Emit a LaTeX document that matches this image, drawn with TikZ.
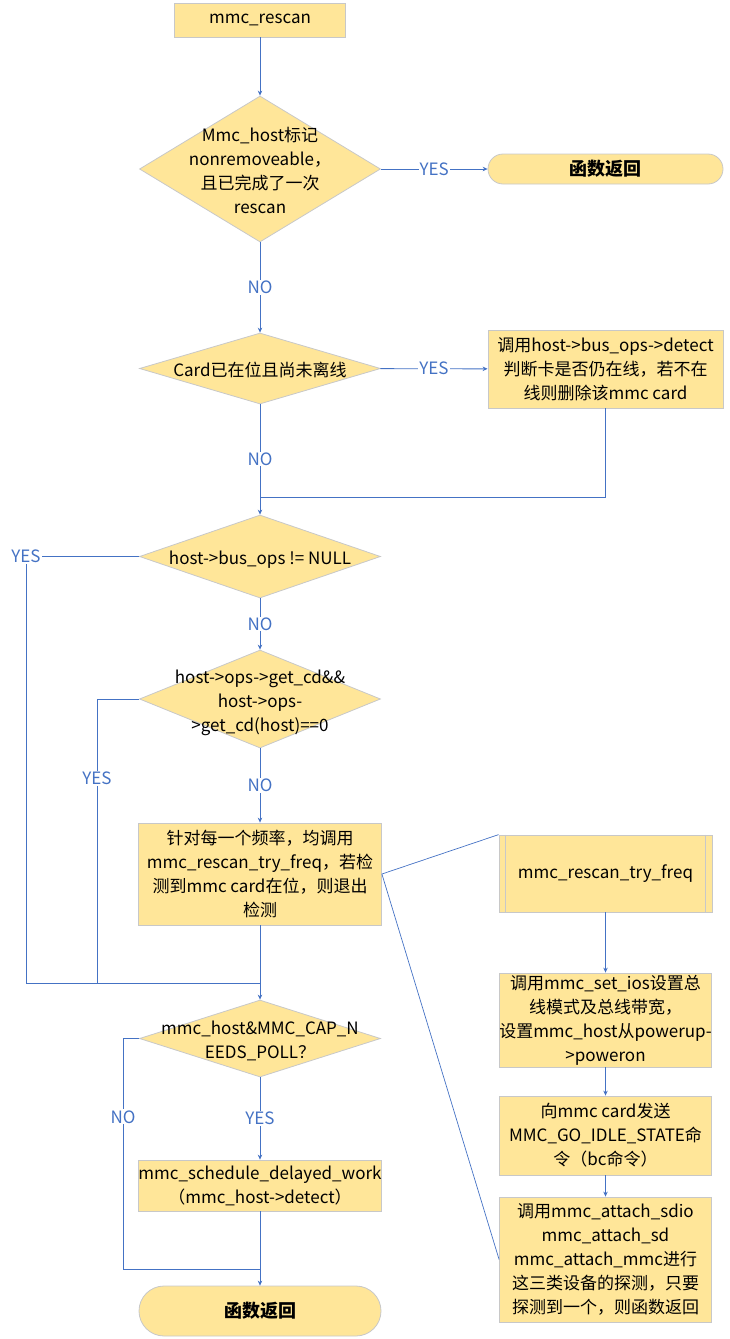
\documentclass[tikz,border=0pt]{standalone}
\usepackage{fontspec}
\setmainfont{Noto Sans CJK SC}
\usepackage{xcolor}
\usetikzlibrary{arrows.meta}
\usetikzlibrary{calc}
\usetikzlibrary{shapes.geometric}
\definecolor{flowblue}{HTML}{4472C4}
\definecolor{flowfill}{HTML}{FFE699}
\definecolor{flowedge}{HTML}{C8C8C8}
\newcommand{\figrescanflat}[1]{\makebox[0pt]{\smash{\raisebox{-0.45em}{\begin{tabular}{@{}c@{}}#1\end{tabular}}}}}
\tikzset{
  flowbox/.style={draw=flowedge, fill=flowfill, line width=0.8pt, align=center, inner sep=0pt, font={\fontsize{17pt}{24pt}\selectfont}},
  flowproc/.style={flowbox, rectangle},
  flowterm/.style={flowbox, rectangle, font={\fontsize{18pt}{24pt}\selectfont\bfseries}},
  flowdeci/.style={flowbox, diamond, minimum width=241pt},
  flowline/.style={draw=flowblue, line width=0.9pt},
  flowarrow/.style={flowline, -{Stealth[length=5pt,width=4.5pt]}},
  flowlabel/.style={fill=white, text=flowblue, inner sep=1pt, font={\fontsize{17pt}{20pt}\selectfont}},
}

\begin{document}
\begin{tikzpicture}[x=1pt, y=-1pt]
        \newcommand{\figrescanmainx}{260}
        \newcommand{\figrescansidex}{605.5}
        \newcommand{\figrescanjoinay}{497}
        \newcommand{\figrescanjoinby}{983}
        \newcommand{\figrescanjoincy}{1269}
        \useasboundingbox (0,0) rectangle (729,1339);
        \node[flowproc, minimum width=171pt, minimum height=34pt] (start) at (\figrescanmainx,20) {mmc\_rescan};
        \node[flowdeci, minimum height=146pt] (nonrem) at (\figrescanmainx,169) {\figrescanflat{Mmc\_host标记\\nonremoveable，\\且已完成了一次\\rescan}};
        \node[flowterm, minimum width=235pt, minimum height=30pt, rounded corners=15pt] (retone) at (\figrescansidex,169) {函数返回};
        \node[flowdeci, minimum height=71pt] (cardon) at (\figrescanmainx,368.5) {\figrescanflat{Card已在位且尚未离线}};
        \node[flowproc, minimum width=235pt, minimum height=78pt] (detect) at (\figrescansidex,369) {调用host->bus\_ops->detect\\判断卡是否仍在线，若不在\\线则删除该mmc card};
        \node[flowdeci, minimum height=83pt] (busops) at (\figrescanmainx,556.5) {\figrescanflat{host->bus\_ops != NULL}};
        \node[flowdeci, minimum height=98pt] (getcd) at (\figrescanmainx,699) {\figrescanflat{host->ops->get\_cd\&\&\\host->ops-\\>get\_cd(host)==0}};
        \node[flowproc, minimum width=243pt, minimum height=102pt] (tryall) at (\figrescanmainx,874) {针对每一个频率，均调用\\mmc\_rescan\_try\_freq，若检\\测到mmc card在位，则退出\\检测};
        \node[flowdeci, minimum height=77pt] (needpoll) at (\figrescanmainx,1038.5) {\figrescanflat{mmc\_host\&MMC\_CAP\_N\\EEDS\_POLL？}};
        \node[flowproc, minimum width=243pt, minimum height=51pt] (sched) at (\figrescanmainx,1185.5) {mmc\_schedule\_delayed\_work\\（mmc\_host->detect）};
        \node[flowterm, minimum width=242pt, minimum height=50pt, rounded corners=25pt] (rettwo) at (\figrescanmainx,1311) {函数返回};
        \node[flowproc, minimum width=213pt, minimum height=77pt] (tryf) at (\figrescansidex,873.5) {mmc\_rescan\_try\_freq};
        \node[flowproc, minimum width=212pt, minimum height=94pt] (setios) at (\figrescansidex,1020) {调用mmc\_set\_ios设置总\\线模式及总线带宽，\\设置mmc\_host从powerup-\\>poweron};
        \node[flowproc, minimum width=212pt, minimum height=79pt] (idle) at (\figrescansidex,1135.5) {向mmc card发送\\MMC\_GO\_IDLE\_STATE命\\令（bc命令）};
        \node[flowproc, minimum width=212pt, minimum height=125pt] (attach) at (\figrescansidex,1259.5) {调用mmc\_attach\_sdio\\mmc\_attach\_sd\\mmc\_attach\_mmc进行\\这三类设备的探测，只要\\探测到一个，则函数返回};
        \draw[draw=flowedge, line width=0.8pt] ([xshift=7pt]tryf.north west) -- ([xshift=7pt]tryf.south west);
        \draw[draw=flowedge, line width=0.8pt] ([xshift=-7pt]tryf.north east) -- ([xshift=-7pt]tryf.south east);
        \coordinate (joina) at (\figrescanmainx,\figrescanjoinay);
        \coordinate (joinb) at (\figrescanmainx,\figrescanjoinby);
        \coordinate (joinc) at (\figrescanmainx,\figrescanjoincy);
        \coordinate (yesbus) at (26,556.5);
        \coordinate (yescd) at (97,\figrescanjoinby);
        \coordinate (nopoll) at (123,\figrescanjoincy);
        \draw[flowarrow] (start) -- (nonrem);
        \draw[flowarrow] (nonrem) -- node[flowlabel] (yesnonrem) {YES} (retone);
        \draw[flowarrow] (nonrem) -- node[flowlabel] (nononrem) {NO} (cardon);
        \draw[flowarrow] (cardon) -- node[flowlabel] (yescardon) {YES} (detect);
        \draw[flowline] (cardon) -- node[flowlabel, pos=0.59] (nocardon) {NO} (joina);
        \draw[flowline] (detect) |- (joina);
        \draw[flowarrow] (joina) -- (busops);
        \draw[flowline] (busops) -- (yesbus) |- (joinb);
        \node[flowlabel] (yesbusops) at (yesbus) {YES};
        \draw[flowarrow] (busops) -- node[flowlabel] (nobusops) {NO} (getcd);
        \draw[flowline] (getcd) -| node[flowlabel, pos=0.64] (yesgetcd) {YES} (yescd);
        \draw[flowarrow] (getcd) -- node[flowlabel] (nogetcd) {NO} (tryall);
        \draw[flowline] (tryall) -- (joinb);
        \draw[flowarrow] (joinb) -- (needpoll);
        \draw[flowarrow] (needpoll) -- node[flowlabel] (yespoll) {YES} (sched);
        \draw[flowline] (needpoll) -| node[flowlabel, pos=0.67] (nopolllabel) {NO} (nopoll) -- (joinc);
        \draw[flowline] (sched) -- (joinc);
        \draw[flowarrow] (joinc) -- (rettwo);
        \draw[flowarrow] (tryf) -- (setios);
        \draw[flowarrow] (setios) -- (idle);
        \draw[flowarrow] (idle) -- (attach);
        \draw[flowline, line width=0.7pt] (tryall.east) -- (tryf.north west);
        \draw[flowline, line width=0.7pt] (tryall.east) -- (attach.west);
        \end{tikzpicture}
\end{document}
